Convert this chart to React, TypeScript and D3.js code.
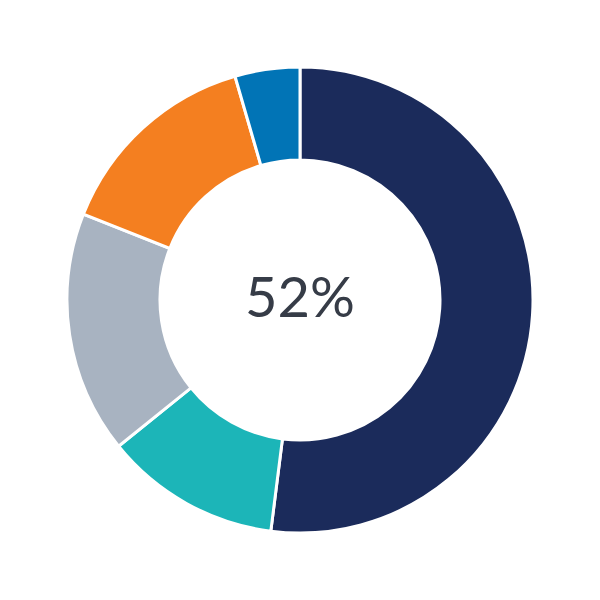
import React, { useRef, useEffect } from "react";
import * as d3 from "d3";

const labels = ["Navy", "Teal", "Gray", "Orange", "Blue"];
const values = [52, 12.2, 16.8, 14.5, 4.5];
const colors = ["#1B2B5B", "#1CB5B8", "#A8B3C1", "#F47F20", "#0174B6"];
const centerLabel = "52%";

const App = () => {
    const svgRef = useRef<SVGSVGElement | null>(null);

    useEffect(() => {
        const width = 600;
        const height = 600;
        const outer = 233;
        const inner = 140;

        const svg = d3.select(svgRef.current);
        svg.selectAll("*").remove();

        const pie = d3.pie<number>().sort(null).value((d) => d);
        const arc = d3.arc<d3.PieArcDatum<number>>().innerRadius(inner).outerRadius(outer);

        const g = svg.append("g").attr("transform", `translate(${width / 2},${height / 2})`);

        g.selectAll("path")
            .data(pie(values))
            .enter()
            .append("path")
            .attr("d", arc)
            .attr("fill", (d, i) => colors[i])
            .attr("stroke", "#fff")
            .attr("stroke-width", 3)
            .append("title")
            .text((d, i) => labels[i]);

        // center percentage
        g.append("text")
            .attr("text-anchor", "middle")
            .attr("y", -3)
            .attr("dy", "0.35em")
            .style("font-family", "Lato, 'Open Sans', sans-serif")
            .style("font-weight", 400)
            .style("font-size", "56px")
            .style("fill", "#363c47")
            .text(centerLabel);
    }, []);

    return (
        <svg
            ref={svgRef}
            width={600}
            height={600}
            style={{ position: "absolute", left: 0, top: 0, background: "#fff" }}
        />
    );
};

export default App;
